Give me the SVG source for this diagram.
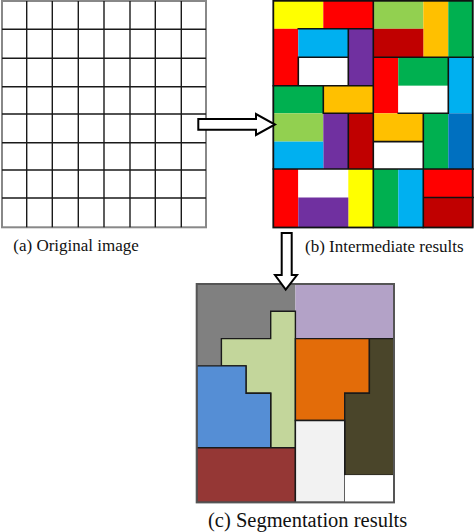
<svg xmlns="http://www.w3.org/2000/svg" width="474" height="532" viewBox="0 0 474 532">
<style>
.lbl{font-family:"Liberation Serif","Times New Roman",serif;fill:#111}
.gl{stroke:#1a1a1a;stroke-width:1.4;fill:none}
.bl{stroke:#111;stroke-width:1.6;fill:none;stroke-linecap:square}
.sl{stroke:#1a1a1a;stroke-width:1.4;stroke-linejoin:miter}
.Y{fill:#FFFF00}.R{fill:#FF0000}.LG{fill:#92D050}.GO{fill:#FFC000}.G{fill:#00B050}
.LB{fill:#00B0F0}.P{fill:#7030A0}.DR{fill:#C00000}.B{fill:#0070C0}.W{fill:#FFFFFF}
.arrow{fill:#fff;stroke:#000;stroke-width:2;stroke-linejoin:miter}
</style>
<rect width="474" height="532" fill="#fff"/>

<g id="original">
<rect x="2" y="1" width="204" height="226.3" fill="#fff" stroke="#888" stroke-width="2"/>
<path class="gl" d="M26.7 1V227.3M52.3 1V227.3M78.3 1V227.3M104 1V227.3M130 1V227.3M155.3 1V227.3M181.3 1V227.3"/>
<path class="gl" d="M2 29.3H206M2 58.3H206M2 86.7H206M2 114H206M2 142.7H206M2 170H206M2 198H206"/>
</g>

<g id="intermediate">
<rect x="273.3" y="0" width="50" height="28.8" class="Y"/>
<rect x="323.3" y="0" width="50" height="28.8" class="R"/>
<rect x="373.3" y="0" width="50" height="28.8" class="LG"/>
<rect x="423.3" y="0" width="25" height="57.2" class="GO"/>
<rect x="448.3" y="0" width="25" height="57.2" class="G"/>
<rect x="273.3" y="28.8" width="25" height="57" class="R"/>
<rect x="298.3" y="28.8" width="50" height="28.4" class="LB"/>
<rect x="348.3" y="28.8" width="25" height="57" class="P"/>
<rect x="373.3" y="28.8" width="50" height="28.4" class="DR"/>
<rect x="298.3" y="57.2" width="50" height="28.6" class="W"/>
<rect x="373.3" y="57.2" width="25" height="56.1" class="R"/>
<rect x="398.3" y="57.2" width="50" height="28.6" class="G"/>
<rect x="448.3" y="57.2" width="25" height="56.1" class="LB"/>
<rect x="273.3" y="85.8" width="50" height="27.5" class="G"/>
<rect x="323.3" y="85.8" width="50" height="27.5" class="GO"/>
<rect x="398.3" y="85.8" width="50" height="27.5" class="W"/>
<rect x="273.3" y="113.3" width="50" height="28.3" class="LG"/>
<rect x="323.3" y="113.3" width="25" height="55.7" class="P"/>
<rect x="348.3" y="113.3" width="25" height="55.7" class="DR"/>
<rect x="373.3" y="113.3" width="50" height="28.3" class="GO"/>
<rect x="423.3" y="113.3" width="25" height="55.7" class="G"/>
<rect x="448.3" y="113.3" width="25" height="55.7" class="B"/>
<rect x="273.3" y="141.6" width="50" height="27.4" class="LB"/>
<rect x="373.3" y="141.6" width="50" height="27.4" class="W"/>
<rect x="273.3" y="169" width="25" height="58.5" class="R"/>
<rect x="298.3" y="169" width="50" height="28.5" class="W"/>
<rect x="348.3" y="169" width="25" height="58.5" class="Y"/>
<rect x="373.3" y="169" width="25" height="58.5" class="G"/>
<rect x="398.3" y="169" width="25" height="58.5" class="LB"/>
<rect x="423.3" y="169" width="50" height="28.5" class="R"/>
<rect x="298.3" y="197.5" width="50" height="30" class="P"/>
<rect x="423.3" y="197.5" width="50" height="30" class="DR"/>
<path class="bl" d="M373.3 0V227.5M273.3 169H473.3M298.3 28.8H373.3M348.3 28.8V85.8M298.3 57.2H348.3M298.3 57.2V85.8M273.3 85.8H373.3M323.3 85.8V113.3M323.3 113.3H373.3M348.3 113.3V169M373.3 57.2H473.3M448.3 57.2V113.3M398.3 113.3H448.3M373.3 141.6H423.3M423.3 113.3V227.5M423.3 197.5H473.3"/>
<rect x="273.3" y="0.8" width="199.4" height="226.7" fill="none" stroke="#111" stroke-width="1.8"/>
</g>

<g id="segmentation">
<rect x="196.7" y="284" width="98.7" height="109.2" fill="#808080"/>
<rect x="295.4" y="284" width="98.6" height="54.6" fill="#B3A2C7"/>
<polygon class="sl" fill="#C3D69B" points="270.7,311.3 295.4,311.3 295.4,447.8 270.7,447.8 270.7,393.2 246,393.2 246,365.9 221.4,365.9 221.4,338.6 270.7,338.6"/>
<polygon class="sl" fill="#558ED5" points="196.7,365.9 246,365.9 246,393.2 270.7,393.2 270.7,447.8 196.7,447.8"/>
<polygon class="sl" fill="#953735" points="196.7,447.8 295.4,447.8 295.4,502.4 196.7,502.4"/>
<polygon class="sl" fill="#E36C09" points="295.4,338.6 369.4,338.6 369.4,393.2 344.7,393.2 344.7,420.5 295.4,420.5"/>
<polygon class="sl" fill="#4A452A" points="369.4,338.6 394,338.6 394,475.1 344.7,475.1 344.7,393.2 369.4,393.2"/>
<polygon class="sl" fill="#F2F2F2" points="295.4,420.5 344.7,420.5 344.7,502.4 295.4,502.4"/>
<rect x="344.7" y="475.1" width="49.3" height="27.3" fill="#FFFFFF"/>
<rect x="196.7" y="284" width="197.3" height="218.4" fill="none" stroke="#555" stroke-width="2"/>
</g>

<g id="connectors">
<polygon class="arrow" points="198.3,119 256,119 256,114 275,124.5 256,135 256,129.8 198.3,129.8"/>
<polygon class="arrow" points="281.7,233 291.7,233 291.7,275 297,275 285.7,289.5 275,275 281.7,275"/>
</g>

<g id="labels">
<text class="lbl" x="13.3" y="251" font-size="17">(a) Original image</text>
<text class="lbl" x="305" y="252" font-size="17">(b) Intermediate results</text>
<text class="lbl" x="208" y="527" font-size="20.5">(c) Segmentation results</text>
</g>
</svg>
